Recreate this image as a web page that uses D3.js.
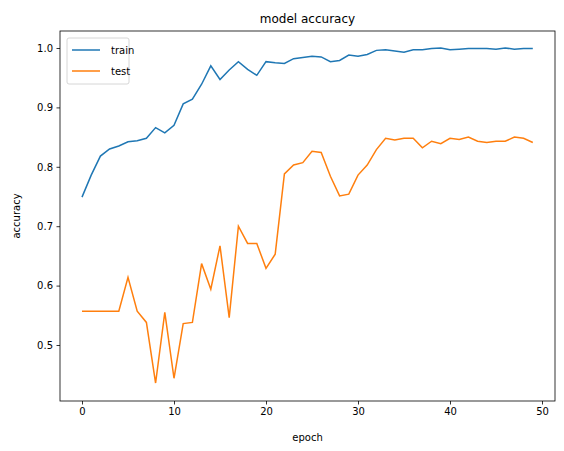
<!DOCTYPE html>
<html><head><meta charset="utf-8">
<script src="https://cdn.jsdelivr.net/npm/d3@7"></script>
<style>body{margin:0;background:#fff}text{font-family:"DejaVu Sans",sans-serif;fill:#000}</style>
</head><body><div id="container"></div>
<script>
const epochs = d3.range(50);
const train = [0.749,0.786,0.818,0.830,0.835,0.842,0.844,0.848,0.866,0.857,0.870,0.906,0.914,0.939,0.970,0.947,0.963,0.977,0.964,0.954,0.977,0.975,0.974,0.982,0.984,0.986,0.985,0.977,0.979,0.988,0.986,0.989,0.996,0.997,0.995,0.993,0.997,0.997,0.999,1.0,0.997,0.998,0.999,0.999,0.999,0.998,1.0,0.998,0.999,0.999];
const test = [0.557,0.557,0.557,0.557,0.557,0.614,0.557,0.538,0.436,0.555,0.444,0.536,0.538,0.637,0.594,0.667,0.546,0.700,0.671,0.671,0.629,0.653,0.788,0.803,0.807,0.826,0.824,0.784,0.751,0.754,0.786,0.803,0.829,0.848,0.845,0.848,0.848,0.832,0.843,0.839,0.848,0.846,0.850,0.843,0.841,0.843,0.843,0.850,0.848,0.841];
const xTicks = [0,10,20,30,40,50];
const yTicks = [0.5,0.6,0.7,0.8,0.9,1.0];

const width = 564, height = 451;
const plotLeft = 60, plotRight = 555, plotTop = 31, plotBottom = 401;

const svg = d3.create("svg").attr("width", width).attr("height", height);

// epoch 0 at px 82, epoch 50 at px 542
const x = d3.scaleLinear().domain([0, 50]).range([82, 542]);
const y = d3.scaleLinear().domain([0.5, 1.0]).range([345, 48]);

const line = d3.line().x((d, i) => x(epochs[i])).y(d => y(d));

svg.append("path").datum(train).attr("fill", "none").attr("stroke", "#1f77b4").attr("stroke-width", 1.5).attr("d", line);
svg.append("path").datum(test).attr("fill", "none").attr("stroke", "#ff7f0e").attr("stroke-width", 1.5).attr("d", line);

// frame
svg.append("rect").attr("x", plotLeft).attr("y", plotTop).attr("width", plotRight - plotLeft).attr("height", plotBottom - plotTop)
  .attr("fill", "none").attr("stroke", "#000").attr("stroke-width", 0.8);

// axes
const xAxis = svg.append("g").attr("transform", `translate(0,${plotBottom})`)
  .call(d3.axisBottom(x).tickValues(xTicks).tickSize(3.5).tickPadding(3.5).tickFormat(d3.format("d")));
const yAxis = svg.append("g").attr("transform", `translate(${plotLeft},0)`)
  .call(d3.axisLeft(y).tickValues(yTicks).tickSize(3.5).tickPadding(3.5).tickFormat(d3.format(".1f")));
[xAxis, yAxis].forEach(g => {
  g.select(".domain").remove();
  g.selectAll("line").attr("stroke", "#000").attr("stroke-width", 0.8);
  g.selectAll("text").attr("font-size", 10).attr("font-family", "DejaVu Sans").attr("fill", "#000");
});

svg.append("text").attr("x", (plotLeft + plotRight) / 2).attr("y", 23).attr("text-anchor", "middle")
  .attr("font-size", 12).text("model accuracy");
svg.append("text").attr("x", (plotLeft + plotRight) / 2).attr("y", 441).attr("text-anchor", "middle")
  .attr("font-size", 10).text("epoch");
svg.append("text").attr("transform", `translate(20,${(plotTop + plotBottom) / 2}) rotate(-90)`).attr("text-anchor", "middle")
  .attr("font-size", 10).text("accuracy");

// legend
const lg = svg.append("g");
lg.append("rect").attr("x", 67).attr("y", 38).attr("width", 62).attr("height", 46).attr("rx", 2)
  .attr("fill", "#fff").attr("fill-opacity", 0.8).attr("stroke", "#ccc").attr("stroke-width", 0.8);
[["train", "#1f77b4"], ["test", "#ff7f0e"]].forEach(([name, c], i) => {
  const yy = 50 + i * 21;
  lg.append("line").attr("x1", 72).attr("x2", 100).attr("y1", yy).attr("y2", yy).attr("stroke", c).attr("stroke-width", 1.5);
  lg.append("text").attr("x", 111).attr("y", yy + 4).attr("font-size", 10).text(name);
});

document.getElementById("container").append(svg.node());
</script>
</body></html>
